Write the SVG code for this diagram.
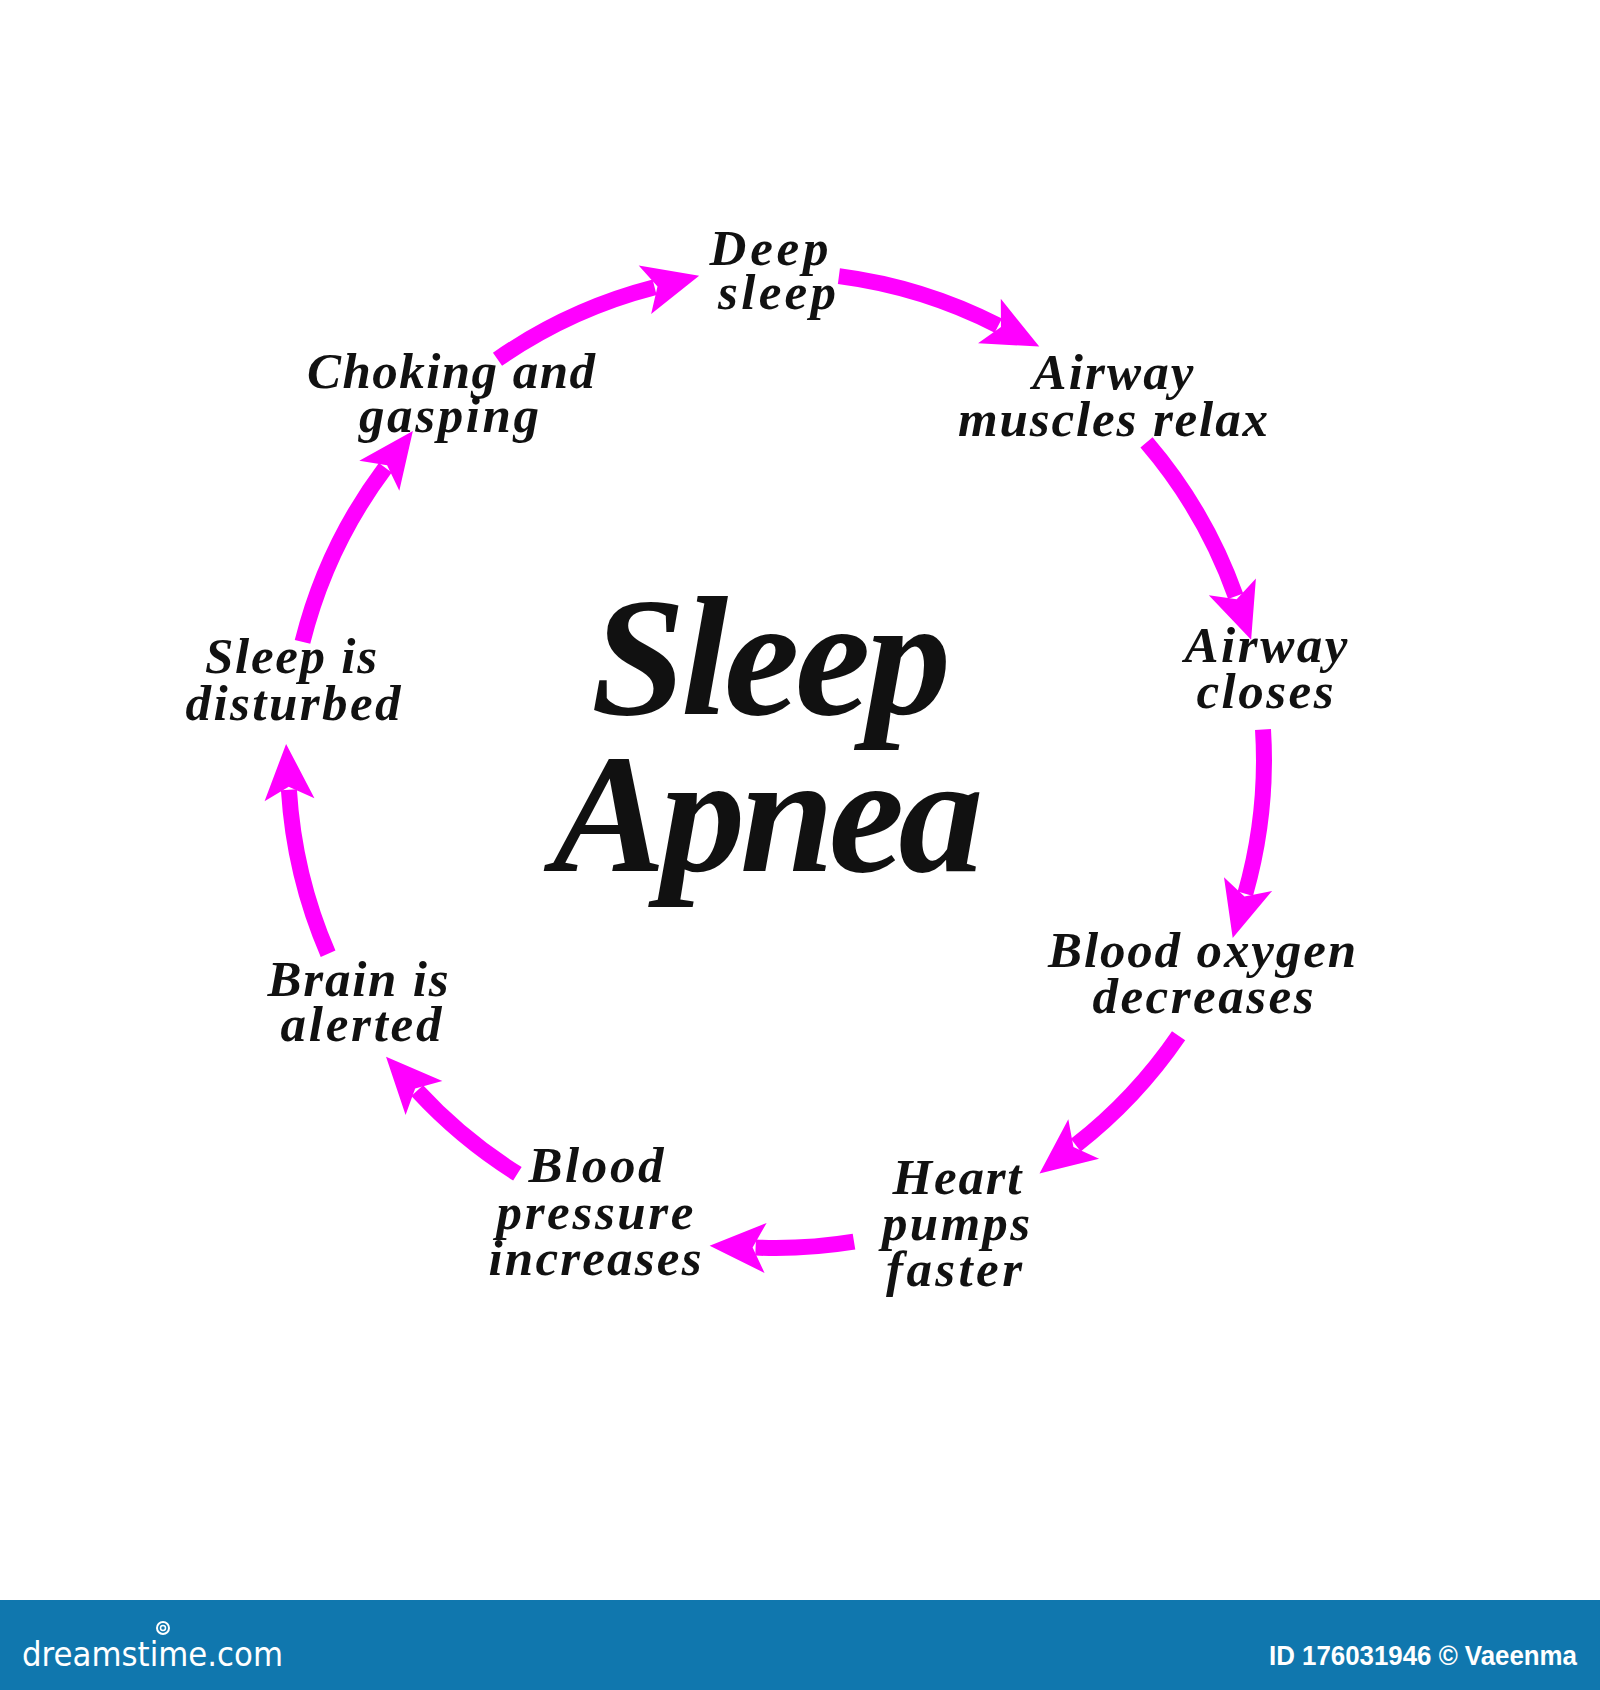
<svg xmlns="http://www.w3.org/2000/svg" width="1600" height="1690" viewBox="0 0 1600 1690">
<defs>
<style>
.lbl{font-family:"Liberation Serif","Times New Roman",serif;font-weight:bold;font-style:italic;font-size:51px;fill:#111;text-anchor:middle}
.title{font-family:"Liberation Serif","Times New Roman",serif;font-weight:bold;font-style:italic;font-size:170px;fill:#111;text-anchor:middle}
.arc{fill:none;stroke:#f0f;stroke-width:16;stroke-linecap:butt;marker-end:url(#head)}
</style>
<marker id="head" markerUnits="userSpaceOnUse" markerWidth="80" markerHeight="80" refX="0" refY="0" viewBox="-20 -40 80 80" orient="auto" overflow="visible">
<path d="M-10,-25 L46,0 L-10,25 L3,0 Z" fill="#f0f"/>
</marker>
</defs>
<rect width="1600" height="1690" fill="#fff"/>
<g id="connectors">
<path class="arc" d="M497.5,359.3 A488,488 0 0 1 654.6,287.3"/>
<path class="arc" d="M838.9,276.1 A488,488 0 0 1 998.3,325.6"/>
<path class="arc" d="M1146.5,442.4 A488,488 0 0 1 1235.7,596.3"/>
<path class="arc" d="M1263.0,729.4 A488,488 0 0 1 1245.3,893.7"/>
<path class="arc" d="M1178.6,1035.7 A488,488 0 0 1 1075.8,1145.1"/>
<path class="arc" d="M854.0,1241.7 A488,488 0 0 1 755.6,1247.6"/>
<path class="arc" d="M517.4,1173.8 A488,488 0 0 1 417.2,1090.7"/>
<path class="arc" d="M328.1,953.8 A488,488 0 0 1 288.9,789.8"/>
<path class="arc" d="M302.5,641.9 A488,488 0 0 1 385.3,467.7"/>
</g>
<g id="title">
<text class="title" x="771" y="714" textLength="360">Sleep</text>
<text class="title" x="768" y="871" textLength="431">Apnea</text>
</g>
<g id="node-deep-sleep">
<text class="lbl" x="769" y="265" textLength="119">Deep</text>
<text class="lbl" x="777" y="309" textLength="118">sleep</text>
</g>
<g id="node-airway-muscles">
<text class="lbl" x="1113" y="389" textLength="161">Airway</text>
<text class="lbl" x="1113" y="436" textLength="310">muscles relax</text>
</g>
<g id="node-airway-closes">
<text class="lbl" x="1266" y="662" textLength="163">Airway</text>
<text class="lbl" x="1265" y="708" textLength="137">closes</text>
</g>
<g id="node-blood-oxygen">
<text class="lbl" x="1202" y="967" textLength="308">Blood oxygen</text>
<text class="lbl" x="1203" y="1013" textLength="221">decreases</text>
</g>
<g id="node-heart">
<text class="lbl" x="957" y="1194" textLength="129">Heart</text>
<text class="lbl" x="956" y="1240" textLength="148">pumps</text>
<text class="lbl" x="954" y="1286" textLength="136">faster</text>
</g>
<g id="node-blood-pressure">
<text class="lbl" x="596" y="1182" textLength="135">Blood</text>
<text class="lbl" x="595" y="1229" textLength="197">pressure</text>
<text class="lbl" x="595" y="1275" textLength="213">increases</text>
</g>
<g id="node-brain">
<text class="lbl" x="358" y="996" textLength="181">Brain is</text>
<text class="lbl" x="361" y="1041" textLength="161">alerted</text>
</g>
<g id="node-sleep-disturbed">
<text class="lbl" x="291" y="673" textLength="172">Sleep is</text>
<text class="lbl" x="293" y="720" textLength="215">disturbed</text>
</g>
<g id="node-choking">
<text class="lbl" x="451" y="388" textLength="288">Choking and</text>
<text class="lbl" x="449" y="432" textLength="180">gasping</text>
</g>
<g id="footer">
<rect x="0" y="1600" width="1600" height="90" fill="#1077ae"/>
<text x="22" y="1666" font-family="DejaVu Sans, sans-serif" font-size="34" fill="#fff" textLength="261" lengthAdjust="spacingAndGlyphs">dreamstime.com</text>
<circle cx="163" cy="1628" r="6" fill="none" stroke="#fff" stroke-width="2"/>
<circle cx="163" cy="1628" r="2.5" fill="none" stroke="#fff" stroke-width="1.5"/>
<text x="1269" y="1665" font-family="Liberation Sans, Arial, sans-serif" font-weight="bold" font-size="27" fill="#fff" textLength="308" lengthAdjust="spacingAndGlyphs">ID 176031946 © Vaeenma</text>
</g>
</svg>
